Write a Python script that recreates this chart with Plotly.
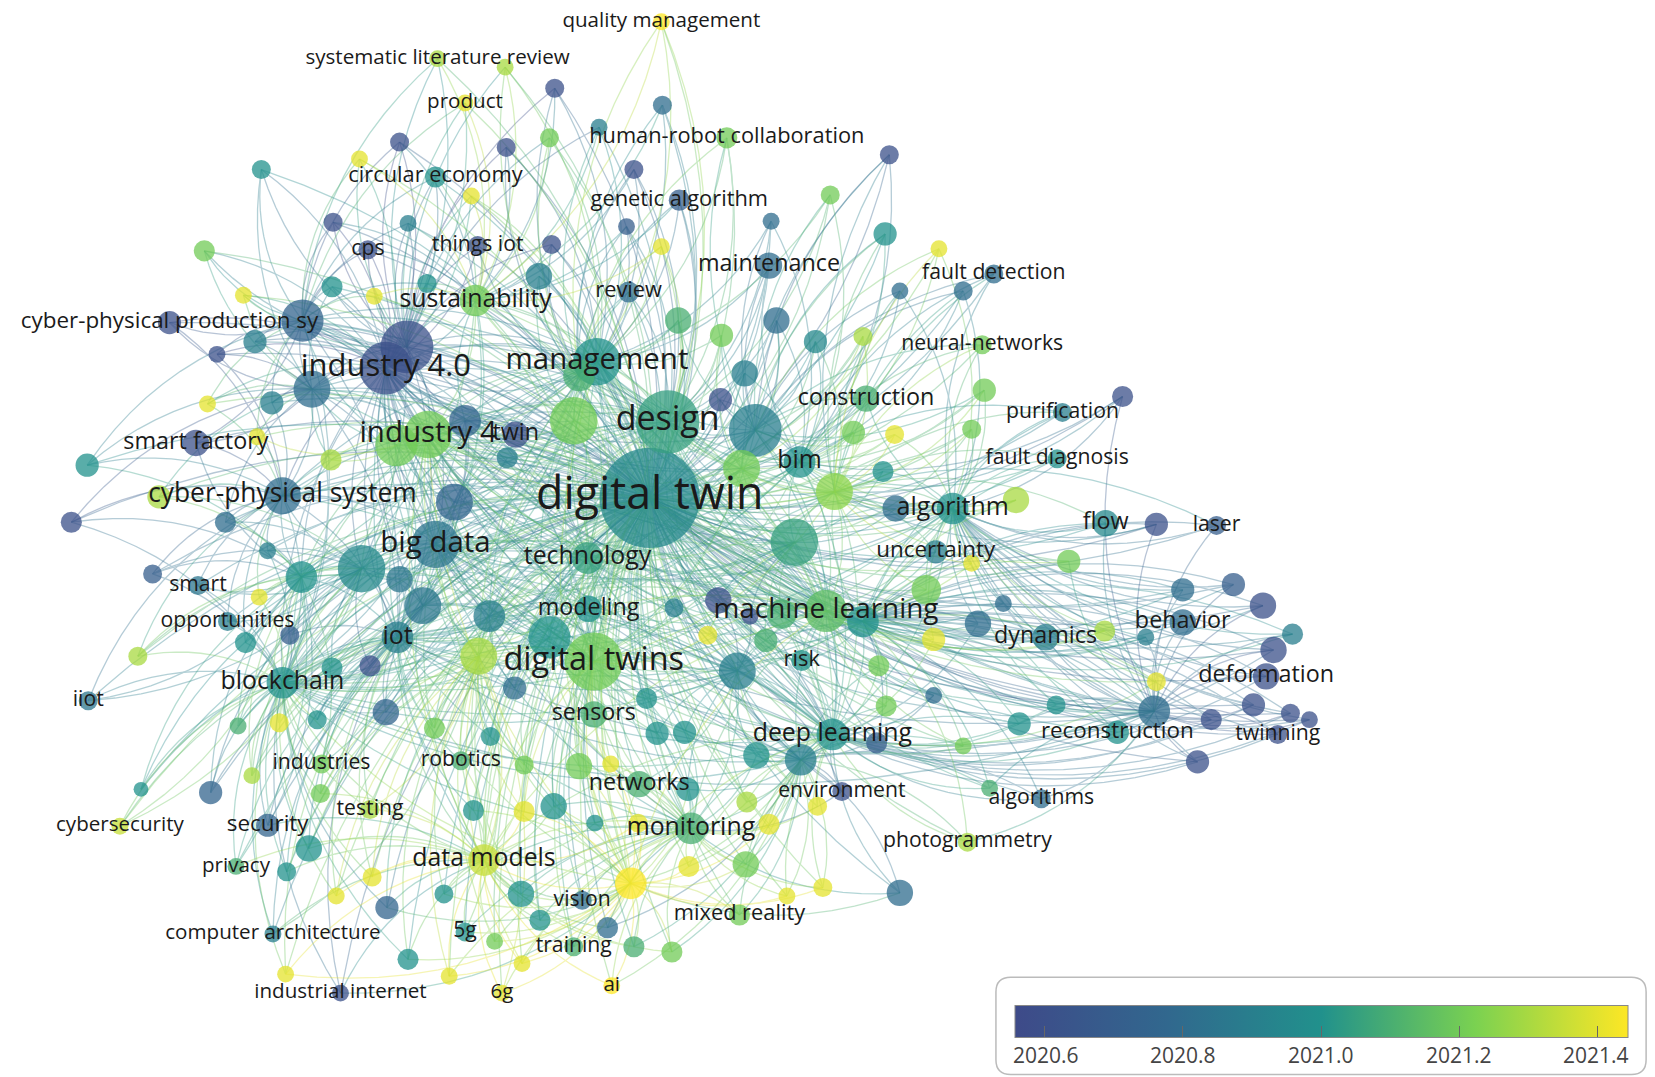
import plotly.graph_objects as go
from plotly.colors import sample_colorscale

# labeled keywords: label, x, y (layout coords), node diameter, avg. publication year
labels = ["digital twin","design","management","industry 4.0","industry 4","twin","big data","machine learning",
"digital twins","iot","blockchain","technology","modeling","sensors","deep learning","monitoring","data models",
"networks","cyber-physical system","smart factory","cyber-physical production sy","sustainability","review",
"maintenance","genetic algorithm","human-robot collaboration","circular economy","things iot","cps","product",
"systematic literature review","quality management","fault detection","neural-networks","construction",
"purification","bim","fault diagnosis","algorithm","flow","laser","uncertainty","dynamics","behavior",
"deformation","reconstruction","twinning","environment","algorithms","photogrammetry","risk","smart",
"opportunities","iiot","industries","robotics","testing","security","cybersecurity","privacy",
"computer architecture","industrial internet","5g","6g","vision","training","ai","mixed reality"]
lab_x = [615,632,565,365,405,488,412,782,562,376,267,556,557,562,788,654,458,605,267,185,160,450,595,728,643,688,412,
452,348,440,414,626,941,930,820,1006,757,1001,902,1047,1152,886,990,1120,1199,1058,1210,797,986,916,759,187,215,83,
304,436,350,253,113,223,258,322,440,475,551,543,579,700]
lab_y = [468,396,339,345,408,408,512,575,623,600,643,525,573,673,692,781,811,739,466,416,302,281,273,248,186,127,164,
229,233,94,52,17,256,323,374,387,434,431,478,492,494,519,600,586,637,690,692,746,753,794,622,551,585,660,720,717,763,
778,779,817,881,937,879,937,849,893,930,863]
lab_size = [95,60,45,50,45,25,45,40,55,30,30,30,25,25,30,30,30,25,35,25,22,30,20,25,20,20,20,18,18,16,16,16,18,18,25,
18,30,18,30,25,18,22,25,25,25,22,18,18,18,18,20,18,18,18,18,18,18,22,16,16,16,16,18,16,18,18,16,20]
lab_year = [2020.95,2021.05,2021.0,2020.6,2021.2,2020.6,2020.85,2021.15,2021.2,2020.9,2021.0,2021.05,2021.0,2021.1,
2021.0,2021.1,2021.35,2021.1,2020.8,2020.6,2020.6,2021.2,2020.8,2020.8,2020.7,2021.2,2021.0,2020.6,2020.6,2021.4,
2021.3,2021.45,2020.8,2021.2,2021.1,2020.9,2021.0,2021.0,2021.0,2020.95,2020.7,2020.9,2020.9,2020.8,2020.6,2021.0,
2020.6,2020.6,2020.8,2021.3,2021.0,2020.85,2020.9,2020.85,2021.2,2021.1,2021.3,2020.75,2021.35,2021.1,2020.9,2020.6,
2021.0,2021.4,2020.8,2021.1,2021.45,2021.2]

# unlabeled keywords: (x, y, diameter, year)
others = [(247,157,18,2021.0),(193,234,20,2021.2),(230,276,16,2021.4),(315,207,18,2020.6),(378,131,18,2020.6),
(340,147,16,2021.4),(479,136,18,2020.6),(525,80,18,2020.6),(478,60,16,2021.3),(627,96,18,2020.8),(567,117,16,2020.9),
(520,127,18,2021.2),(600,157,18,2020.6),(842,143,18,2020.6),(786,181,18,2021.2),(730,206,16,2020.8),(838,218,22,2021.0),
(889,232,16,2021.4),(852,272,16,2020.8),(912,272,18,2020.8),(386,208,16,2020.9),(446,182,16,2021.4),(522,228,18,2020.6),
(593,211,16,2020.7),(626,230,16,2021.4),(510,258,25,2020.9),(404,265,18,2021.0),(354,277,16,2021.4),(314,268,20,2021.0),
(286,300,40,2020.75),(385,325,50,2020.6),(295,365,35,2020.8),(257,378,22,2020.9),(241,320,22,2020.9),(205,332,16,2020.6),
(196,379,16,2021.4),(243,410,16,2021.4),(313,432,20,2021.3),(375,418,40,2021.2),(430,472,35,2020.75),(440,395,30,2020.75),
(480,430,20,2020.9),(543,395,45,2021.2),(548,352,30,2021.1),(642,300,25,2021.1),(683,314,22,2021.2),(705,350,25,2020.9),
(682,375,22,2020.6),(715,404,50,2020.9),(702,440,35,2021.2),(790,462,35,2021.25),(752,510,45,2021.05),(848,478,25,2020.8),
(836,443,20,2021.0),(808,406,22,2021.2),(847,408,18,2021.4),(772,320,22,2020.95),(735,300,25,2020.8),(817,315,18,2021.3),
(932,366,22,2021.2),(920,403,18,2021.2),(962,470,25,2021.3),(877,555,28,2021.2),(920,530,16,2021.4),(950,568,16,2020.8),
(926,587,25,2020.8),(884,602,22,2021.4),(1012,528,22,2021.2),(1095,493,22,2020.6),(1063,372,20,2020.6),(1120,555,22,2020.8),
(1168,550,22,2020.7),(1196,570,25,2020.6),(1224,597,20,2020.9),(1206,612,25,2020.6),(1093,670,30,2020.8),(1147,678,20,2020.6),
(1187,664,22,2020.6),(1222,672,18,2020.6),(1134,718,22,2020.6),(1095,642,18,2021.4),(1000,664,18,2021.0),(965,682,22,2021.0),
(912,703,16,2021.2),(937,743,16,2021.1),(830,700,20,2020.7),(839,665,20,2021.2),(832,627,20,2021.2),(725,603,22,2021.1),
(740,578,28,2021.1),(817,585,30,2021.0),(698,632,35,2020.9),(670,598,18,2021.4),(710,580,16,2020.6),(680,565,25,2020.6),
(638,572,18,2020.9),(463,580,30,2020.9),(453,618,35,2021.3),(520,600,40,2021.0),(487,648,22,2020.8),(400,570,35,2020.85),
(342,535,45,2020.95),(378,545,25,2020.85),(285,543,30,2021.0),(253,518,16,2020.9),(213,491,20,2020.8),(150,467,22,2021.3),
(82,437,22,2021.0),(67,491,20,2020.6),(144,540,18,2020.7),(245,562,16,2021.4),(274,598,18,2020.7),(232,605,20,2021.0),
(130,618,18,2021.3),(314,629,20,2021.0),(350,627,20,2020.6),(365,671,25,2020.75),(300,678,18,2021.0),(264,681,18,2021.4),
(225,684,16,2021.1),(238,731,16,2021.3),(199,747,22,2020.75),(133,744,14,2021.0),(303,748,18,2021.2),(292,800,25,2021.0),
(271,822,18,2021.0),(318,845,16,2021.4),(366,856,22,2020.75),(352,827,18,2021.4),(386,905,20,2021.0),(425,921,16,2021.4),
(270,919,16,2021.4),(420,843,18,2021.0),(468,888,16,2021.2),(494,909,16,2021.4),(511,868,20,2021.0),(493,843,25,2021.0),
(575,875,20,2020.8),(600,893,20,2021.1),(636,898,20,2021.2),(597,833,30,2021.45),(652,817,20,2021.4),(706,815,25,2021.2),
(745,845,16,2021.4),(779,837,18,2021.4),(852,842,25,2020.8),(728,777,20,2021.4),(774,760,18,2021.4),(707,756,20,2021.3),
(651,744,22,2021.0),(622,691,22,2021.0),(648,690,22,2021.0),(612,658,20,2021.0),(548,722,25,2021.2),(578,720,16,2021.4),
(524,760,25,2021.0),(496,765,20,2021.4),(448,764,20,2021.0),(411,686,20,2021.2),(464,694,18,2021.0),(496,721,18,2021.2),
(563,776,16,2021.0),(604,776,18,2021.4),(716,712,25,2021.0),(758,716,30,2020.9),(884,655,16,2020.8),(1085,600,16,2020.9),
(1240,678,16,2020.6),(1046,594,20,2021.3)]

cbar_ticks = [2020.6, 2020.8, 2021.0, 2021.2, 2021.4]
cbar_ticktext = ['2020.6', '2020.8', '2021.0', '2021.2', '2021.4']

W, H = 1568, 1020
OX, OY = 7, 4
K = 1655 / W
CMIN, CMAX = 2020.557, 2021.443
cscale = [[0,'#3e4a89'],[0.25,'#31688e'],[0.5,'#21918c'],[0.75,'#7ad151'],[1,'#fde725']]

X = lab_x + [o[0] for o in others]
Y = lab_y + [o[1] for o in others]
S = lab_size + [o[2] for o in others]
YR = lab_year + [o[3] for o in others]
N = len(X)

def col(v):
    t = min(1, max(0, (v - CMIN) / (CMAX - CMIN)))
    return sample_colorscale(cscale, [t])[0]

big = [i for i in range(N) if S[i] >= 30]
edges = set()
for i in range(N):
    edges.add(tuple(sorted((i, 0))))
    d = sorted(big, key=lambda j: (X[i]-X[j])**2 + (Y[i]-Y[j])**2)
    for j in [k for k in d if k != i][:4]:
        edges.add(tuple(sorted((i, j))))
    if i in big:
        for j in big[:12]:
            if j != i:
                edges.add(tuple(sorted((i, j))))

nb = 12
bins = [{'x': [], 'y': []} for _ in range(nb)]
for (a, b) in sorted(edges):
    x0, y0, x1, y1 = X[a], Y[a], X[b], Y[b]
    mx, my = (x0+x1)/2, (y0+y1)/2
    dx, dy = x1-x0, y1-y0
    cx, cy = mx - dy*0.2, my + dx*0.2
    xs, ys = [], []
    for k in range(13):
        t = k/12
        xs.append((1-t)**2*x0 + 2*(1-t)*t*cx + t*t*x1)
        ys.append((1-t)**2*y0 + 2*(1-t)*t*cy + t*t*y1)
    v = (YR[a]+YR[b])/2
    bi = min(nb-1, max(0, int((v-CMIN)/(CMAX-CMIN)*nb)))
    bins[bi]['x'] += xs + [None]
    bins[bi]['y'] += ys + [None]

fig = go.Figure()
for bi, bd in enumerate(bins):
    if not bd['x']:
        continue
    fig.add_trace(go.Scatter(x=bd['x'], y=bd['y'], mode='lines', hoverinfo='skip',
        line=dict(color=col(CMIN + (bi+0.5)/nb*(CMAX-CMIN)), width=1.3), opacity=0.35, showlegend=False))

BAR_L, BAR_R = 962, 1540
order = sorted(range(N), key=lambda i: -S[i])
fig.add_trace(go.Scatter(x=[X[i] for i in order], y=[Y[i] for i in order], mode='markers',
    marker=dict(size=[S[i]*K for i in order], color=[YR[i] for i in order], colorscale=cscale,
                cmin=CMIN, cmax=CMAX, opacity=0.75, line=dict(width=0),
                colorbar=dict(orientation='h', x=(1251-OX)/W, xanchor='center', y=1-(970-OY)/H, yanchor='middle',
                              len=600/W, thickness=30*K, tickvals=cbar_ticks, showticklabels=False,
                              ticks='inside', ticklen=12, tickcolor='#666', outlinecolor='#888', outlinewidth=1)),
    showlegend=False, hoverinfo='skip'))

fs = [(19.5 + (s-16)*0.29) * K for s in lab_size]
fig.add_trace(go.Scatter(x=lab_x, y=lab_y, mode='text', text=labels,
    textfont=dict(size=fs, color='#1a1a1a', family='Open Sans'), showlegend=False, hoverinfo='skip'))

for v, t in zip(cbar_ticks, cbar_ticktext):
    fig.add_annotation(x=BAR_L + (v-CMIN)/(CMAX-CMIN)*(BAR_R-BAR_L), y=996, text=t, showarrow=False,
                       xref='x', yref='y', font=dict(size=21, color='#444', family='Open Sans'))

x0, x1, y0, y1, r = 943, 1559, 922, 1014, 14
path = (f"M{x0+r},{y0} L{x1-r},{y0} Q{x1},{y0} {x1},{y0+r} L{x1},{y1-r} Q{x1},{y1} {x1-r},{y1} "
        f"L{x0+r},{y1} Q{x0},{y1} {x0},{y1-r} L{x0},{y0+r} Q{x0},{y0} {x0+r},{y0} Z")
fig.add_shape(type='path', path=path, xref='x', yref='y', line=dict(color='#bbbbbb', width=1.5), layer='below')

fig.update_layout(width=1655, height=1077, margin=dict(l=0, r=0, t=0, b=0),
    paper_bgcolor='white', plot_bgcolor='white',
    xaxis=dict(range=[OX, W+OX], visible=False, fixedrange=True),
    yaxis=dict(range=[H+OY, OY], visible=False, fixedrange=True))
fig.write_html("out.html")
